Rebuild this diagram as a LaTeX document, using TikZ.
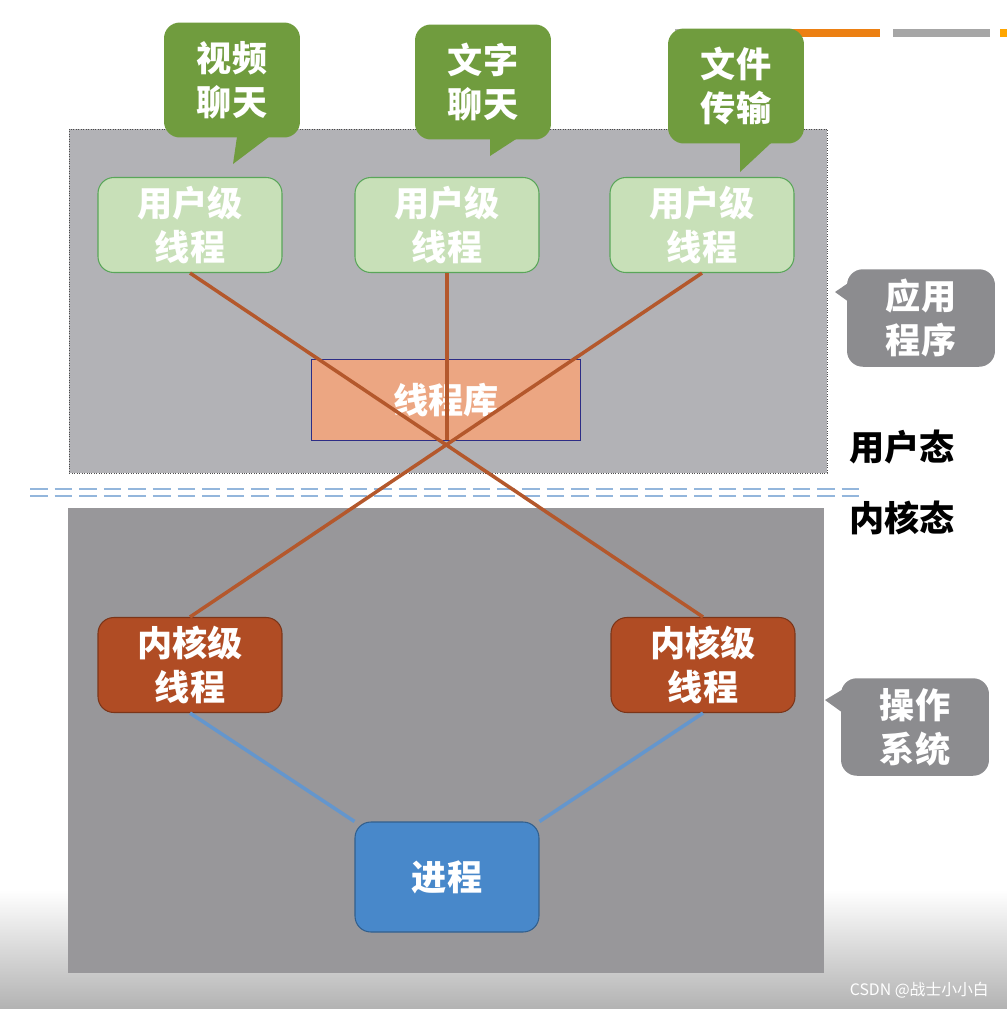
\documentclass[tikz,border=0pt]{standalone}
\usepackage{fontspec}
\setmainfont{Noto Sans CJK SC}
\definecolor{upbg}{RGB}{178,178,182}
\definecolor{lowbg}{RGB}{152,151,154}
\definecolor{ugreen}{RGB}{200,224,184}
\definecolor{cgreen}{RGB}{112,156,62}
\definecolor{korange}{RGB}{176,76,36}
\definecolor{libc}{RGB}{236,166,130}
\definecolor{procb}{RGB}{72,136,202}
\definecolor{lineo}{RGB}{180,88,44}
\definecolor{lineb}{RGB}{100,150,205}
\definecolor{gcall}{RGB}{140,140,143}
\begin{document}
\begin{tikzpicture}[x=0.02cm,y=-0.02cm,
  txt/.style={text=white,font=\fontsize{20}{25}\selectfont\bfseries,align=center},
  box/.style={rounded corners=9pt,draw,line width=0.6pt,minimum width=3.68cm,minimum height=1.9cm,txt},
  ubox/.style={box,fill=ugreen,draw=gray!70!green},
  kbox/.style={box,fill=korange,draw=korange!70!black},
  gcallbox/.style={rounded corners=9pt,fill=cgreen,txt,minimum width=2.72cm,minimum height=2.3cm},
  graybox/.style={rounded corners=9pt,fill=gcall,txt,minimum width=2.96cm,minimum height=1.95cm}]
\useasboundingbox (0,0) rectangle (1007,1009);
\fill[white] (0,0) rectangle (1007,1009);
\shade[top color=white,bottom color=gray!60] (0,890) rectangle (1007,1009);
% top bars
\fill[gray!60] (675,29) rectangle (770,37);
\fill[orange!70!brown] (785,29) rectangle (880,37);
\fill[gray!70] (893,29) rectangle (990,37);
\fill[orange!70!yellow] (1000,29) rectangle (1007,37);
% regions
\fill[upbg] (69,129) rectangle (827,473);
\draw[gray!60!black,densely dotted] (69,129) rectangle (827,473);
\fill[lowbg] (68,508) rectangle (824,973);
\draw[lineb!70,line width=1.4pt,dash pattern=on 10pt off 4pt] (30,489) -- (860,489);
\draw[lineb!70,line width=1.4pt,dash pattern=on 10pt off 4pt] (30,496) -- (860,496);
% nodes
\node[ubox] (u1) at (190,225) {用户级\\线程};
\node[ubox] (u2) at (447,225) {用户级\\线程};
\node[ubox] (u3) at (702,225) {用户级\\线程};
\node[fill=libc,draw=gray!50!blue!70!black,minimum width=5.38cm,minimum height=1.62cm,txt] (lib) at (446,400) {线程库};
\node[kbox] (k1) at (190,665) {内核级\\线程};
\node[kbox] (k2) at (703,665) {内核级\\线程};
\node[box,fill=procb,draw=procb!70!black,minimum height=2.2cm] (p) at (447,877) {进程};
\coordinate (x) at (447,440);
% connectors
\draw[lineo,line width=2pt] (u1.south) -- (k2.north);
\draw[lineo,line width=2pt] (u3.south) -- (k1.north);
\draw[lineo,line width=2pt] (u2.south) -- (x);
\draw[lineb,line width=2pt] (k1.south) -- (p.north west);
\draw[lineb,line width=2pt] (k2.south) -- (p.north east);
% callouts
\fill[cgreen] (238,130) -- (233,164) -- (278,130) -- cycle;
\fill[cgreen] (490,130) -- (490,156) -- (530,130) -- cycle;
\fill[cgreen] (740,130) -- (740,172) -- (785,130) -- cycle;
\node[gcallbox] (c1) at (232,80) {视频\\聊天};
\node[gcallbox] (c2) at (483,82) {文字\\聊天};
\node[gcallbox] (c3) at (736,86) {文件\\传输};
\fill[gcall] (860,275) -- (835,292) -- (860,310) -- cycle;
\fill[gcall] (850,685) -- (825,700) -- (850,718) -- cycle;
\node[graybox] (g1) at (921,318) {应用\\程序};
\node[graybox] (g2) at (915,727) {操作\\系统};
\node[font=\fontsize{20}{25}\selectfont\bfseries] (us) at (902,447) {用户态};
\node[font=\fontsize{20}{25}\selectfont\bfseries] (ks) at (902,518) {内核态};
\node[text=white,font=\fontsize{9}{11}\selectfont,anchor=east] (wm) at (995,990) {CSDN @战士小小白};
\end{tikzpicture}
\end{document}
